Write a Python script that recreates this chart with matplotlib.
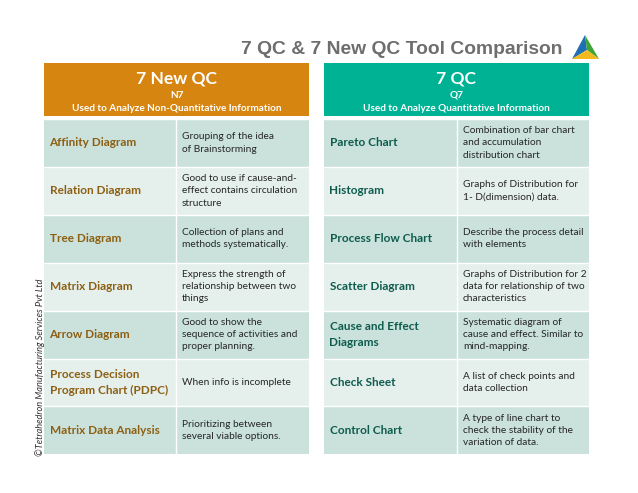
import matplotlib
matplotlib.use('Agg')
import matplotlib.pyplot as plt
from matplotlib.patches import Rectangle, Polygon

title = '7 QC & 7 New QC Tool Comparison'
credit = '©Tetrahedron Manufacturing Services Pvt Ltd'

new_head = ['7 New QC', 'N7', 'Used to Analyze Non-Quantitative Information']
new_names = ['Affinity Diagram', 'Relation Diagram', 'Tree Diagram', 'Matrix Diagram', 'Arrow Diagram',
             'Process Decision\nProgram Chart (PDPC)', 'Matrix Data Analysis']
new_desc = ['Grouping of the idea\nof Brainstorming',
            'Good to use if cause-and-\neffect contains circulation\nstructure',
            'Collection of plans and\nmethods systematically.',
            'Express the strength of\nrelationship between two\nthings',
            'Good to show the\nsequence of activities and\nproper planning.',
            'When info is incomplete',
            'Prioritizing between\nseveral viable options.']

qc_head = ['7 QC', 'Q7', 'Used to Analyze Quantitative Information']
qc_names = ['Pareto Chart', 'Histogram', 'Process Flow Chart', 'Scatter Diagram',
            'Cause and Effect\nDiagrams', 'Check Sheet', 'Control Chart']
qc_desc = ['Combination of bar chart\nand accumulation\ndistribution chart',
           'Graphs of Distribution for\n1- D(dimension) data.',
           'Describe the process detail\nwith elements',
           'Graphs of Distribution for 2\ndata for relationship of two\ncharacteristics',
           'Systematic diagram of\ncause and effect. Similar to\nmind-mapping.',
           'A list of check points and\ndata collection',
           'A type of line chart to\ncheck the stability of the\nvariation of data.']

plt.rcParams['font.family'] = ['Lato', 'DejaVu Sans']

fig = plt.figure(figsize=(6.38, 4.93), dpi=100)
ax = fig.add_axes([0, 0, 1, 1])
ax.set_xlim(0, 638)
ax.set_ylim(493, 0)
ax.axis('off')


def draw_table(x0, x1, xs, head, names, desc, head_col, name_col):
    # header block
    ax.add_patch(Rectangle((x0, 63), x1 - x0, 53, color=head_col, lw=0))
    xm = (x0 + x1) / 2
    ax.text(xm, 78.5, head[0], color='white', fontsize=12.6, fontweight='bold', ha='center', va='center')
    ax.text(xm, 95, head[1], color='white', fontsize=7.2, fontweight='bold', ha='center', va='center')
    ax.text(xm, 108.5, head[2], color='white', fontsize=7.2, fontweight='bold', ha='center', va='center')
    # rows
    top = 119
    h = 47.9
    for i in range(len(names)):
        y = top + i * h
        col = '#CAE2DB' if i % 2 == 0 else '#E5F0ED'
        ax.add_patch(Rectangle((x0, y), x1 - x0, h, color=col, lw=0))
        ax.plot([x0, x1], [y, y], color='white', lw=1)
        ax.text(x0 + 5.5, y + h / 2, names[i], color=name_col, fontsize=8.5, fontweight='bold',
                ha='left', va='center', linespacing=1.5)
        ax.text(xs + 6, y + h / 2, desc[i], color='#262626', fontsize=7.25,
                ha='left', va='center', linespacing=1.45)
    ax.plot([xs, xs], [top, top + 7 * h], color='white', lw=1)


draw_table(44, 309, 176, new_head, new_names, new_desc, '#D68511', '#8C5F12')
draw_table(324, 589, 457, qc_head, qc_names, qc_desc, '#00B294', '#0E5C4E')

ax.text(562.5, 49.5, title, color='#6E6E6E', fontsize=13.85, fontweight='bold', family='Liberation Sans',
        ha='right', va='center')
ax.text(40, 367, credit, color='#333333', fontsize=6.65, style='italic', rotation=90, ha='center', va='center')

# logo
ax.add_patch(Polygon([(585, 35), (572, 59), (587, 50)], color='#1F6FB5', lw=0))
ax.add_patch(Polygon([(585, 35), (587, 50), (599, 59)], color='#3FA535', lw=0))
ax.add_patch(Polygon([(572, 59), (587, 50), (599, 59)], color='#F2B91D', lw=0))

fig.savefig('out.png', dpi=100)
